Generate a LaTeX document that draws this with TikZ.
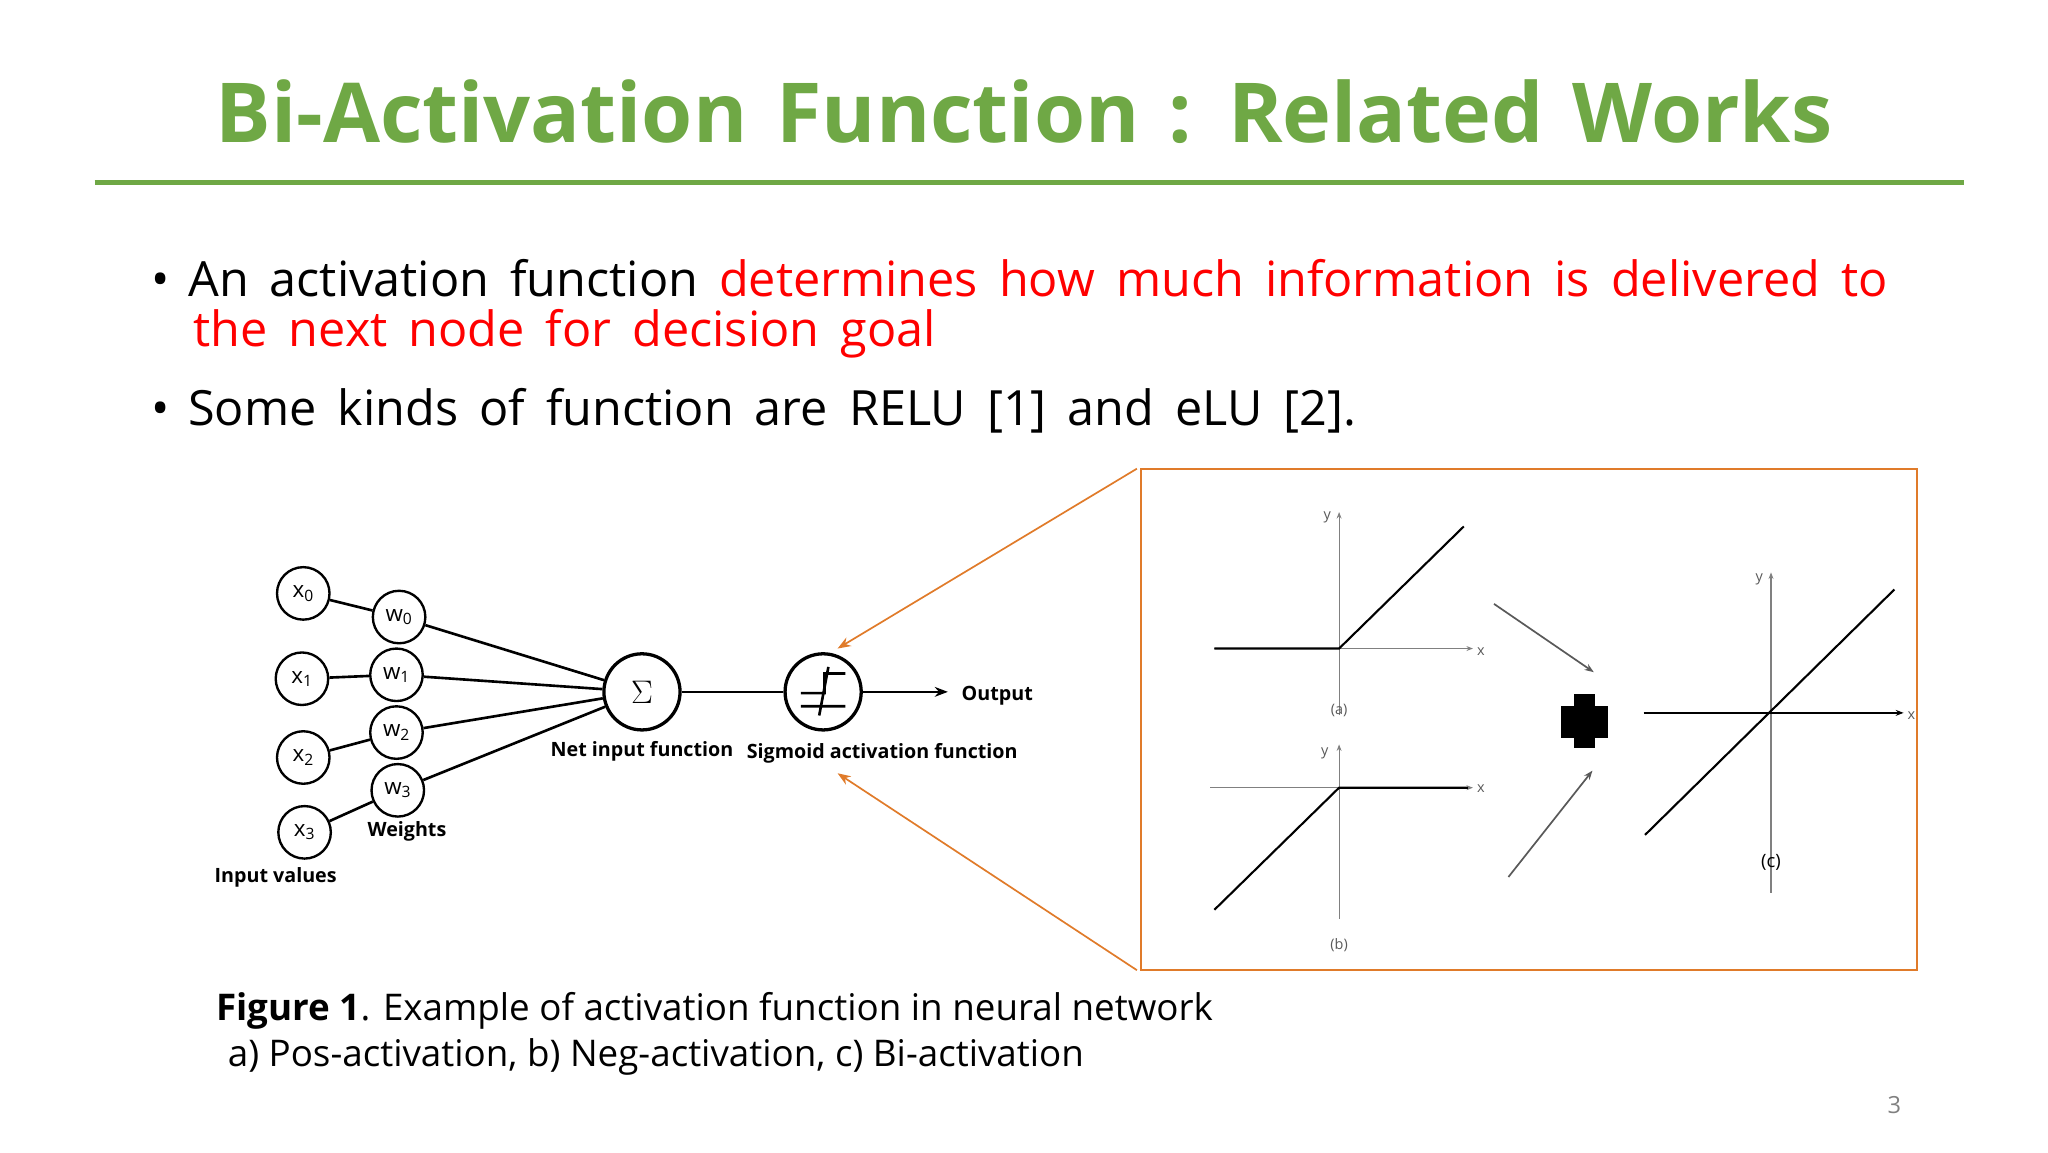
\documentclass[tikz,border=0pt]{standalone}
\usepackage{fontspec}
\setmainfont{Open Sans}
\usetikzlibrary{arrows.meta}
\definecolor{tgreen}{HTML}{6FA845}
\definecolor{tred}{HTML}{FF0000}
\definecolor{torange}{HTML}{E07B2A}
\newcommand{\wsp}{\spaceskip=16pt plus 2pt\relax}
\begin{document}
\begin{tikzpicture}[x=1pt,y=-1pt,
 inn/.style={circle,draw,line width=1.8pt,minimum size=40pt,inner sep=0pt,font=\fontsize{17}{17}\selectfont},
 big/.style={circle,draw,line width=2.5pt,minimum size=58pt,inner sep=0pt},
 lbl/.style={font=\bfseries\fontsize{15}{15}\selectfont},
 wire/.style={line width=2pt},
 ax/.style={gray,line width=0.8pt},
 fn/.style={black,line width=1.6pt},
 tiny/.style={font=\fontsize{11}{11}\selectfont,gray!70!black},
 oarr/.style={torange,line width=1.3pt,-{Stealth[length=10pt]}}]
\useasboundingbox (0,0) rectangle (1560,878);
\node (title) at (780,85) {\bfseries\fontsize{63}{63}\selectfont\color{tgreen}\spaceskip=22pt\relax Bi-Activation Function : Related Works};
\draw[tgreen,line width=4pt] (72,139) -- (1496,139);
\node[anchor=west] (b1) at (112,212) {\fontsize{37}{37}\selectfont\wsp •\hspace{14pt}An activation function \color{tred}determines how much information is delivered to};
\node[anchor=west] (b1b) at (144,254) {\fontsize{37}{37}\selectfont\wsp\color{tred}the next node for decision goal};
\node[anchor=west] (b2) at (112,313) {\fontsize{37}{37}\selectfont\wsp •\hspace{14pt}Some kinds of function are RELU [1] and eLU [2].};
% neuron
\node[inn] (x0) at (231,452) {x\textsubscript{0}};
\node[inn] (x1) at (230,517) {x\textsubscript{1}};
\node[inn] (x2) at (231,577) {x\textsubscript{2}};
\node[inn] (x3) at (232,634) {x\textsubscript{3}};
\node[inn] (w0) at (304,470) {w\textsubscript{0}};
\node[inn] (w1) at (302,514) {w\textsubscript{1}};
\node[inn] (w2) at (302,558) {w\textsubscript{2}};
\node[inn] (w3) at (303,602) {w\textsubscript{3}};
\node[big] (sum) at (489,527) {\fontsize{30}{30}\selectfont$\Sigma$};
\node[big] (act) at (627,527) {};
\draw[line width=2pt] (610,538)--(644,538) (610,528)--(628,528)--(628,513)--(644,513) (624,545)--(631,508);
\foreach \a/\b in {x0/w0,x1/w1,x2/w2,x3/w3}{\draw[wire] (\a)--(\b); \draw[wire] (\b)--(sum);}
\draw[wire] (sum)--(act);
\coordinate (out) at (722,527);
\draw[wire,-{Stealth[length=10pt]}] (act)--(out);
\node[lbl,anchor=west] at (729,530) {Output};
\node[lbl] at (489,572) {Net input function};
\node[lbl] at (672,574) {Sigmoid activation function};
\node[lbl] at (310,633) {Weights};
\node[lbl] at (210,668) {Input values};
% box
\draw[torange,line width=1.3pt] (869,357) rectangle (1460,739);
\coordinate (ot) at (866,357); \coordinate (ob) at (866,739);
\draw[oarr] (ot) -- (638,494);
\draw[oarr] (ob) -- (638,589);
% graph a
\draw[ax,-{Stealth[length=5pt]}] (1020,545)--(1020,390);
\draw[ax,-{Stealth[length=5pt]}] (925,494)--(1122,494);
\draw[fn] (925,494)--(1020,494)--(1115,401);
\node[tiny] at (1011,394) {y}; \node[tiny] at (1128,496) {x}; \node[tiny] at (1020,541) {(a)};
% graph b
\draw[ax,-{Stealth[length=5pt]}] (1020,700)--(1020,567);
\draw[ax,-{Stealth[length=5pt]}] (922,600)--(1122,600);
\draw[fn] (925,693)--(1020,600)--(1118,600);
\node[tiny] at (1009,574) {y}; \node[tiny] at (1128,601) {x}; \node[tiny] at (1020,720) {(b)};
% graph c
\draw[ax,-{Stealth[length=5pt]}] (1349,680)--(1349,436);
\draw[fn,-{Stealth[length=6pt]}] (1252,543)--(1450,543);
\draw[fn] (1253,636)--(1443,449);
\node[tiny] at (1340,441) {y}; \node[tiny] at (1456,545) {x}; \node[tiny,black,font=\fontsize{14}{14}\selectfont] at (1349,657) {(c)};
% arrows and plus
\draw[gray!70!black,line width=1.3pt,-{Stealth[length=7pt]}] (1138,460)--(1214,512);
\draw[gray!70!black,line width=1.3pt,-{Stealth[length=7pt]}] (1149,668)--(1213,587);
\fill (1199,529) rectangle (1215,570);
\fill (1189,538) rectangle (1225,562);
% caption
\node[anchor=west] (cap1) at (161,770) {\fontsize{28}{28}\selectfont\textbf{Figure 1}. Example of activation function in neural network};
\node[anchor=west] (cap2) at (170,805) {\fontsize{28}{28}\selectfont a) Pos-activation, b) Neg-activation, c) Bi-activation};
\node[gray] at (1443,842) {\fontsize{18}{18}\selectfont 3};
\end{tikzpicture}
\end{document}
